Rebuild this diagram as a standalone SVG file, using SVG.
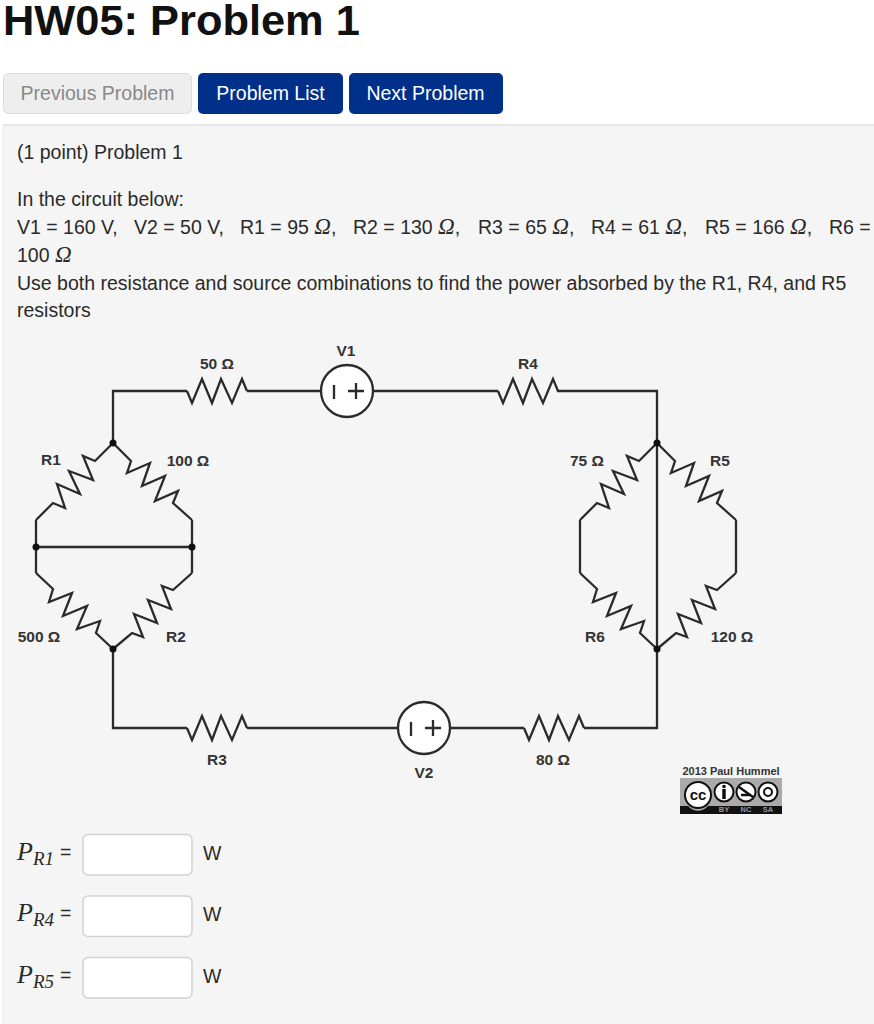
<svg xmlns="http://www.w3.org/2000/svg" width="874" height="1024" viewBox="0 0 874 1024">
<style>
text{font-family:"Liberation Sans",Arial,sans-serif;fill:#2a2a2a}
.body{font-size:19.5px}
.om{font-family:"Liberation Serif","Times New Roman",serif;font-size:23px;font-style:italic}
.btn{font-size:19.5px;fill:#fff;text-anchor:middle}
.lab{font-size:15.500px;font-weight:bold;fill:#333;text-anchor:middle}
.w{fill:none;stroke:#2b2b2b;stroke-width:2.300;stroke-linejoin:miter}
.dot{fill:#111}
.src{fill:#fff;stroke:#2b2b2b;stroke-width:2.300}
.box{fill:#fff;stroke:#d2d2d2;stroke-width:1.500}
.mi{font-family:"Liberation Serif","Times New Roman",serif;font-style:italic;font-size:26px}
.ms{font-family:"Liberation Serif","Times New Roman",serif;font-style:italic;font-size:19px}
.ic{fill:#fff;stroke:#111;stroke-width:2}
.cct{font-size:7.500px;font-weight:bold;fill:#999;text-anchor:middle}
</style>
<defs>
<polyline id="zig" class="w" points="0,0 5,12 15,-12 25,12 34,-12 45,12 55,-12 60,0"/>
<g id="bat"><circle class="src" r="26"/><path class="w" d="M-13,-6V8M1,0H17M9,-8V8"/></g>
</defs>
<rect width="874" height="1024" fill="#fff"/>
<rect x="3" y="125" width="871" height="899" fill="#f5f5f5"/>
<path d="M3,125H874" stroke="#e6e6e6" stroke-width="2" fill="none"/>
<path d="M3,125V1024" stroke="#ececec" stroke-width="1" fill="none"/>
<text x="3" y="35" font-size="43.400" font-weight="bold" style="fill:#111">HW05: Problem 1</text>

<g id="btn-previous"><rect x="3.500" y="73.500" width="188" height="40" rx="5" fill="#eee" stroke="#ddd"/><text class="btn" x="97.500" y="100" style="fill:#888">Previous Problem</text></g>
<g id="btn-list"><rect x="198" y="73" width="145" height="41" rx="5" fill="#00308a"/><text class="btn" x="270.500" y="100">Problem List</text></g>
<g id="btn-next"><rect x="349" y="73" width="154" height="41" rx="5" fill="#00308a"/><text class="btn" x="425.500" y="100">Next Problem</text></g>

<g id="statement">
<text class="body" x="17" y="158.500">(1 point) Problem 1</text>
<text class="body" x="17" y="206">In the circuit below:</text>
<text class="body" x="17" y="234">V1 = 160 V,</text>
<text class="body" x="134" y="234">V2 = 50 V,</text>
<text class="body" x="240" y="234">R1 = 95 <tspan class="om">Ω</tspan>,</text>
<text class="body" x="353" y="234">R2 = 130 <tspan class="om">Ω</tspan>,</text>
<text class="body" x="478" y="234">R3 = 65 <tspan class="om">Ω</tspan>,</text>
<text class="body" x="591" y="234">R4 = 61 <tspan class="om">Ω</tspan>,</text>
<text class="body" x="705" y="234">R5 = 166 <tspan class="om">Ω</tspan>,</text>
<text class="body" x="829" y="234">R6 =</text>
<text class="body" x="17" y="262">100 <tspan class="om">Ω</tspan></text>
<text class="body" x="17" y="289.500">Use both resistance and source combinations to find the power absorbed by the R1, R4, and R5</text>
<text class="body" x="17" y="317">resistors</text>
</g>

<g id="connectors">
<path class="w" d="M113,443V391H187M247,391H321M373,391H498M557,391H657V649M657,649V728H584M524,728H450M398,728H247M187,728H113V649"/>
<path class="w" d="M36,520V573M192,520V573M36,547H192M580,520V573M736,520V573"/>
</g>

<g id="R_50"><use href="#zig" x="187" y="391"/><text class="lab" x="217" y="369">50 Ω</text></g>
<g id="V1"><use href="#bat" x="347" y="391"/><text class="lab" x="346" y="356">V1</text></g>
<g id="R4"><use href="#zig" x="498" y="391"/><text class="lab" x="528" y="369">R4</text></g>
<g id="R3"><use href="#zig" x="187" y="728"/><text class="lab" x="217" y="765">R3</text></g>
<g id="V2"><use href="#bat" x="424" y="728"/><text class="lab" x="424" y="778">V2</text></g>
<g id="R_80"><use href="#zig" x="524" y="728"/><text class="lab" x="553" y="765">80 Ω</text></g>

<g id="R1"><polyline class="w" points="113,443 95,461 83,456 93,480 69,471 80,494 57,484 65,508 53,503 36,520"/><text class="lab" x="51" y="465">R1</text></g>
<g id="R_100"><polyline class="w" points="113,443 131,461 127,473 150,463 142,486 165,476 155,501 178,491 173,503 192,520"/><text class="lab" x="188" y="466">100 Ω</text></g>
<g id="R_500"><polyline class="w" points="36,573 53,589 49,602 72,593 63,616 87,606 77,629 100,621 96,633 113,649"/><text class="lab" x="39" y="642">500 Ω</text></g>
<g id="R2"><polyline class="w" points="192,573 173,590 162,586 171,609 148,600 157,623 134,614 143,637 132,633 113,649"/><text class="lab" x="176" y="642">R2</text></g>

<g id="R_75"><polyline class="w" points="657,443 639,461 627,456 637,480 613,471 624,494 601,484 609,508 597,503 580,520"/><text class="lab" x="587" y="466">75 Ω</text></g>
<g id="R5"><polyline class="w" points="657,443 675,461 671,473 694,463 686,486 709,476 699,501 722,491 717,503 736,520"/><text class="lab" x="720" y="466">R5</text></g>
<g id="R6"><polyline class="w" points="580,573 597,589 593,602 616,593 607,616 631,606 621,629 644,621 640,633 657,649"/><text class="lab" x="595" y="642">R6</text></g>
<g id="R_120"><polyline class="w" points="736,573 717,590 706,586 715,609 692,600 701,623 678,614 687,637 676,633 657,649"/><text class="lab" x="732" y="642">120 Ω</text></g>

<g id="junctions">
<circle class="dot" cx="113" cy="443" r="3.500"/><circle class="dot" cx="113" cy="649" r="3.500"/>
<circle class="dot" cx="36" cy="547" r="3.500"/><circle class="dot" cx="192" cy="547" r="3.500"/>
<circle class="dot" cx="657" cy="443" r="3.500"/><circle class="dot" cx="657" cy="649" r="3.500"/>
</g>

<g id="license">
<text x="731" y="775" text-anchor="middle" font-size="11" font-weight="bold" style="fill:#333">2013 Paul Hummel</text>
<rect x="680" y="778" width="102" height="36" fill="#aaa"/>
<path d="M680,806H688A13,13 0 0 0 708,806H782V814H680Z" fill="#111"/>
<circle class="ic" cx="698" cy="795" r="13"/>
<text x="698" y="800" text-anchor="middle" font-size="15" font-weight="bold" style="fill:#111">cc</text>
<circle class="ic" cx="724" cy="792" r="9.500"/><circle cx="724" cy="786.500" r="1.800" fill="#111"/><path d="M724,789V799" stroke="#111" stroke-width="3.500"/>
<circle class="ic" cx="746" cy="792" r="9.500"/><path d="M739,787L753,797M741,795H751" stroke="#111" stroke-width="2.500"/>
<circle class="ic" cx="768" cy="792" r="9.500"/><circle cx="768" cy="792" r="4" fill="none" stroke="#111" stroke-width="2"/>
<text class="cct" x="724" y="812">BY</text><text class="cct" x="746" y="812">NC</text><text class="cct" x="768" y="812">SA</text>
</g>

<g id="answer-R1"><text class="mi" x="17" y="860">P<tspan class="ms" x="33" y="865">R1</tspan></text><text class="body" x="60" y="859">=</text><rect class="box" x="83" y="834.500" width="109" height="40.500" rx="5"/><text class="body" x="203" y="859.500">W</text></g>
<g id="answer-R4"><text class="mi" x="17" y="921">P<tspan class="ms" x="33" y="926">R4</tspan></text><text class="body" x="60" y="920">=</text><rect class="box" x="83" y="896" width="109" height="40.500" rx="5"/><text class="body" x="203" y="920.500">W</text></g>
<g id="answer-R5"><text class="mi" x="17" y="983">P<tspan class="ms" x="33" y="988">R5</tspan></text><text class="body" x="60" y="982">=</text><rect class="box" x="83" y="957.500" width="109" height="40.500" rx="5"/><text class="body" x="203" y="982.500">W</text></g>
</svg>
